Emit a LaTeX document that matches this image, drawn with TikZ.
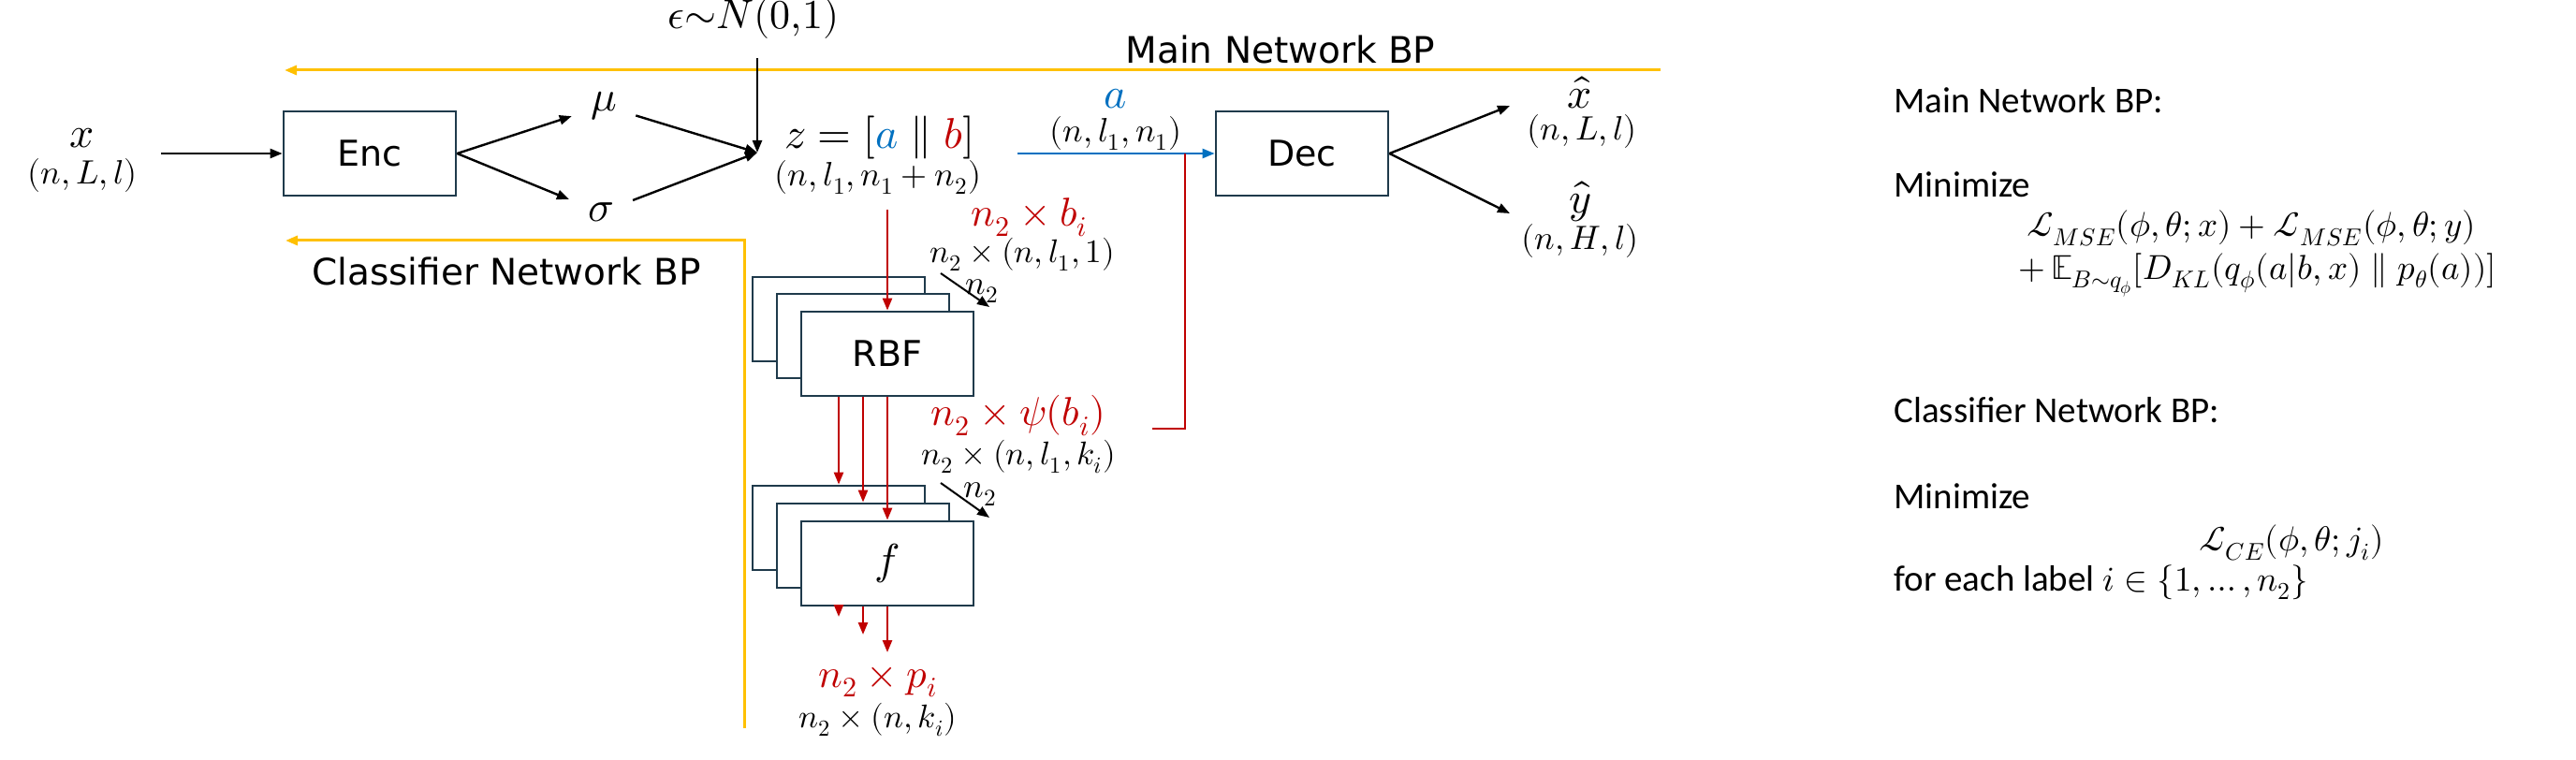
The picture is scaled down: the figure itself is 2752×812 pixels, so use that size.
\documentclass[tikz,border=0pt]{standalone}
\usepackage{fontspec}
\usepackage{unicode-math}
\setmathfont{Latin Modern Math}
\usetikzlibrary{arrows.meta,calc}
\newfontfamily\lsans{DejaVu Sans}
\newfontfamily\rsans{Carlito}
\definecolor{yel}{HTML}{FFC000}
\definecolor{ablue}{HTML}{0070C0}
\definecolor{bred}{HTML}{C00000}
\definecolor{boxc}{HTML}{1F3A4B}
\tikzset{
  blk/.style={draw=boxc, line width=1.4pt, fill=white, minimum width=92pt, minimum height=45pt, inner sep=0pt, font=\lsans\fontsize{19}{22}\selectfont},
  arr/.style={-{Triangle[length=6.5pt,width=5pt]}, line width=1.2pt, draw=black},
  rarr/.style={-{Triangle[length=6.5pt,width=5pt]}, line width=1.2pt, draw=bred},
  barr/.style={-{Triangle[length=6.5pt,width=5pt]}, line width=1.2pt, draw=ablue},
  yarr/.style={-{Triangle[length=6.5pt,width=5pt]}, line width=1.5pt, draw=yel},
  redl/.style={line width=1.2pt, draw=bred},
  bigm/.style={inner sep=0pt, font=\fontsize{23}{26}\selectfont},
  redm/.style={inner sep=0pt, text=bred, font=\fontsize{21.5}{25}\selectfont},
  smm/.style={inner sep=0pt, font=\fontsize{18}{21}\selectfont},
  dimm/.style={inner sep=0pt, font=\fontsize{17.5}{21}\selectfont},
  lbl/.style={inner sep=0pt, font=\lsans\fontsize{19.5}{22}\selectfont},
  rt/.style={inner sep=0pt, anchor=west, font=\rsans\fontsize{19.5}{23}\selectfont},
  rm/.style={inner sep=0pt, anchor=west, font=\fontsize{18.5}{22}\selectfont}
}
\begin{document}
\begin{tikzpicture}[x=0.5pt,y=-0.5pt]
\path[use as bounding box, fill=white] (0,0) rectangle (2752,812);

% backprop paths
\coordinate (mbs) at (1774,75);
\coordinate (mbe) at (304,75);
\draw[yarr] (mbs) -- (mbe);
\node[lbl] (mainbp) at (1368,53) {Main Network BP};
\coordinate (cbs) at (795,778);
\coordinate (cbc) at (795,257);
\coordinate (cbe) at (305,257);
\draw[yarr] (cbs) -- (cbc) -- (cbe);
\node[lbl] (clsbp) at (541,290) {Classifier Network BP};

% encoder
\node[blk] (enc) at (395,164) {Enc};
\node[bigm] (xl) at (88,148) {$x$};
\node[smm] (xt) at (88,188) {$(n,L,l)$};
\coordinate (xin) at (172,164);
\draw[arr] (xin) -- (enc.west);

\node[bigm, inner xsep=10pt, inner ysep=3pt] (mu) at (645,113) {$\mu$};
\node[bigm, inner xsep=10pt, inner ysep=3pt] (sig) at (642,227) {$\sigma$};
\draw[arr] (enc.east) -- (mu);
\draw[arr] (enc.east) -- (sig);

\coordinate (zc) at (809,163);
\draw[arr] (mu) -- (zc);
\draw[arr] (sig) -- (zc);
\node[bigm, font=\fontsize{22}{25}\selectfont] (eps) at (805,20) {$\epsilon{\sim}N(0{,}1)$};
\draw[arr, shorten <=10pt] (eps.south -| zc) -- (zc);

\node[bigm] (z) at (940,147) {$z=[\textcolor{ablue}{a}\parallel\textcolor{bred}{b}]$};
\node[smm] (zt) at (938,190) {$(n,l_1,n_1+n_2)$};

% decoder
\node[blk] (dec) at (1391,164) {Dec};
\coordinate (ast) at (1087,164);
\draw[barr] (ast) -- (dec.west);
\node[bigm, text=ablue] (al) at (1192,106) {$a$};
\node[smm] (atup) at (1192,143) {$(n,l_1,n_1)$};

\node[bigm] (xh) at (1688,99) {$\hat{x}$};
\node[smm] (xht) at (1690,141) {$(n,L,l)$};
\node[bigm] (yh) at (1688,215) {$\hat{y}$};
\node[smm] (yht) at (1688,258) {$(n,H,l)$};
\coordinate (xhin) at (1613,113);
\coordinate (yhin) at (1613,228);
\draw[arr] (dec.east) -- (xhin);
\draw[arr] (dec.east) -- (yhin);

% RBF stack
\node[blk] (rbfb) at (896,341) {};
\node[blk] (rbfm) at (922,359) {};
\node[blk] (rbf) at (948,378) {RBF};
\draw[rarr, shorten <=8pt] (zt.south -| rbf.north) -- (rbf.north);
\node[redm] (bl) at (1100,232) {$n_2\times b_i$};
\node[dimm] (bt) at (1092,272) {$n_2\times(n,l_1,1)$};
\coordinate (n2a) at (1005,292);
\coordinate (n2b) at (1057,328);
\draw[arr, line width=1pt] (n2a) -- (n2b);
\node[smm] (n2l) at (1049,311) {$n_2$};

% f stack
\node[blk] (fb) at (896,564) {};
\node[blk] (fm) at (922,583) {};
\node[blk, font=\fontsize{23}{26}\selectfont] (f) at (948,602) {$f$};
\draw[rarr] (fb.north |- rbf.south) -- (fb.north);
\draw[rarr] (fm.north |- rbf.south) -- (fm.north);
\draw[rarr] (rbf.south) -- (f.north);
\node[redm] (psl) at (1088,444) {$n_2\times\psi(b_i)$};
\node[dimm] (pst) at (1088,488) {$n_2\times(n,l_1,k_i)$};
\coordinate (rq) at (1231,458);
\coordinate (rj) at (1266,164);
\draw[redl] (rq) -| (rj);
\coordinate (n2c) at (1005,516);
\coordinate (n2d) at (1057,553);
\draw[arr, line width=1pt] (n2c) -- (n2d);
\node[smm] (n2m) at (1047,528) {$n_2$};

\coordinate (o1) at (896,659);
\coordinate (o2) at (922,678);
\coordinate (o3) at (948,697);
\draw[rarr] (o1 |- f.south) -- (o1);
\draw[rarr] (o2 |- f.south) -- (o2);
\draw[rarr] (f.south) -- (o3);
\node[redm] (pl) at (938,729) {$n_2\times p_i$};
\node[dimm] (pt) at (938,769) {$n_2\times(n,k_i)$};

% right-hand text
\node[rt] (r1) at (2023,107) {Main Network BP:};
\node[rt] (r2) at (2023,197) {Minimize};
\node[rm] (r3) at (2165,244) {$\mathcal{L}_{MSE}(\phi,\theta;x)+\mathcal{L}_{MSE}(\phi,\theta;y)$};
\node[rm] (r4) at (2156,294) {$+\,\mathbb{E}_{B\sim q_\phi}[D_{KL}(q_\phi(a|b,x)\parallel p_\theta(a))]$};
\node[rt] (r5) at (2023,438) {Classifier Network BP:};
\node[rt] (r6) at (2023,530) {Minimize};
\node[rm] (r7) at (2349,580) {$\mathcal{L}_{CE}(\phi,\theta;j_i)$};
\node[rt] (r8) at (2023,622) {for each label {\fontsize{18.5}{22}\selectfont$i\in\{1,\dots,n_2\}$}};
\end{tikzpicture}
\end{document}
